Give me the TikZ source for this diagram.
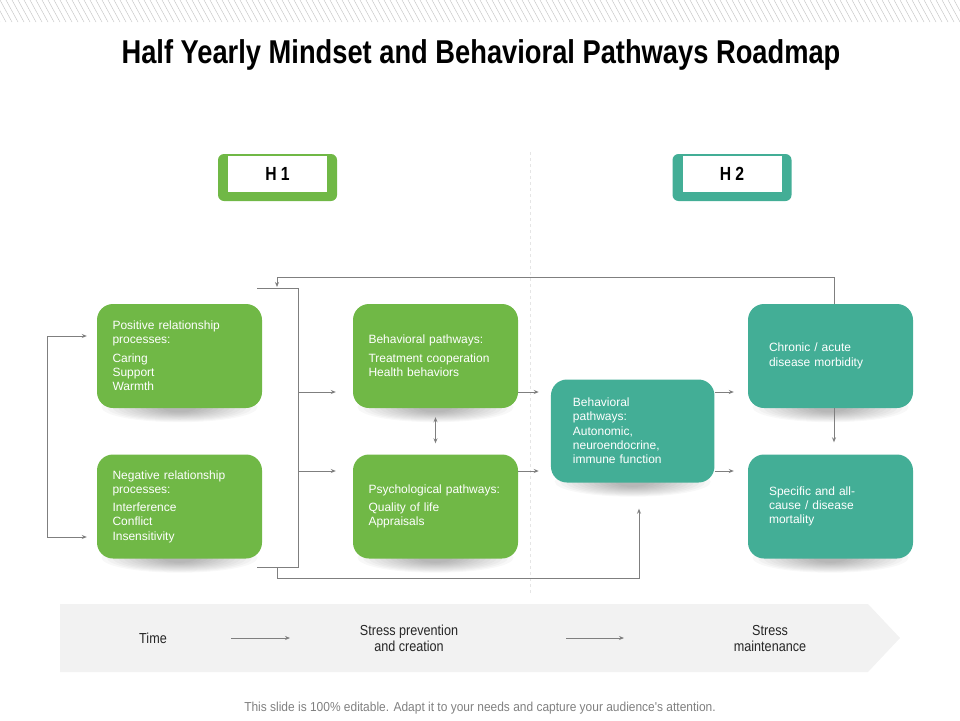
\documentclass[tikz,border=0pt]{standalone}
\usepackage{fontspec}
\setmainfont{Liberation Sans}
\newfontfamily\narrowfont[FakeStretch=0.87]{Liberation Sans}
\newfontfamily\footfont[FakeStretch=0.92]{Liberation Sans}
\newfontfamily\titlefont[FakeStretch=0.827]{Liberation Sans Bold}
\usetikzlibrary{arrows.meta,calc}
\definecolor{pgreen}{RGB}{112,184,70}
\definecolor{pteal}{RGB}{67,174,150}
\definecolor{lnk}{RGB}{127,127,127}
\definecolor{bandgray}{RGB}{242,242,242}
\definecolor{hatchc}{RGB}{200,200,200}
\pgfdeclarelayer{bg}
\pgfsetlayers{bg,main}
\begin{document}
\begin{tikzpicture}[x=1pt,y=-1pt,
  card/.style={rounded corners=16pt, minimum width=165pt, minimum height=104pt,
    text width=134pt, inner xsep=15.5pt, inner ysep=0pt, align=left, text=white,
    font=\fontsize{12}{14.3}\selectfont},
  gcard/.style={card, fill=pgreen},
  tcard/.style={card, fill=pteal},
  conn/.style={draw=lnk, line width=0.9pt},
  arr/.style={conn, -{Stealth[length=5pt,width=4pt]}},
  darr/.style={conn, {Stealth[length=5pt,width=4pt]}-{Stealth[length=5pt,width=4pt]}},
  hout/.style={rounded corners=6pt, minimum width=119pt, minimum height=47pt, inner sep=0pt},
  hin/.style={fill=white, minimum width=99pt, minimum height=36pt, inner sep=0pt,
    font=\titlefont\fontsize{19}{20}\selectfont},
  bandtext/.style={align=center, font=\narrowfont\fontsize{14.5}{16}\selectfont, text=black!85},
  shlayer/.style={fill=black, opacity=0.028}
]
\useasboundingbox (0,0) rectangle (960,720);
% top hatch band
\begin{scope}
  \clip (0,0) rectangle (960,22);
  \foreach \x in {-24,-18,...,966} \draw[hatchc, line width=0.5pt] (\x,0) -- ++(12,22);
\end{scope}
% title
\node (title) at (481,55) {\titlefont\fontsize{33}{36}\selectfont Half Yearly Mindset and Behavioral Pathways Roadmap};
% divider
\draw[black!10, dashed, line width=1pt] (530.5,152) -- (530.5,593);
% H boxes
\node[hout, fill=pgreen] (h1o) at (277.5,177.5) {};
\node[hin] (h1) at (277.5,173.5) {H 1};
\node[hout, fill=pteal] (h2o) at (732,177.5) {};
\node[hin] (h2) at (732,173.5) {H 2};
% cards
\node[gcard] (A) at (179.5,356) {Positive relationship\\processes:\\[4pt]Caring\\Support\\Warmth};
\node[gcard] (B) at (179.5,506.5) {Negative relationship\\processes:\\[4pt]Interference\\Conflict\\Insensitivity};
\node[gcard] (C) at (435.5,356) {Behavioral pathways:\\[4pt]Treatment cooperation\\Health behaviors};
\node[gcard] (D) at (435.5,506.5) {Psychological pathways:\\[4pt]Quality of life\\Appraisals};
\node[tcard, minimum width=163.5pt, minimum height=103pt, text width=119.5pt, inner xsep=22pt] (E) at (632.7,431) {Behavioral\\pathways:\\Autonomic,\\neuroendocrine,\\immune function};
\node[tcard, text width=123pt, inner xsep=21pt] (F) at (830.5,356) {Chronic / acute\\disease morbidity};
\node[tcard, text width=123pt, inner xsep=21pt] (G) at (830.5,506.5) {Specific and all-\\cause / disease\\mortality};
% soft shadows
\begin{pgfonlayer}{bg}
  \foreach \n in {A,B,C,D,E,F,G}
    \foreach \k in {0,...,11}
      \fill[shlayer] ($(\n.south)+(0,-1)$) ellipse ({78-5.5*\k} and {15-0.9*\k});
\end{pgfonlayer}
% left loop
\coordinate (lt) at (47,336);
\coordinate (lb) at (47,537);
\draw[conn] (lt) -- (lb);
\draw[arr] (lt) -- ($(lt -| A.west)+(-10,0)$);
\draw[arr] (lb) -- ($(lb -| B.west)+(-10,0)$);
% bracket
\coordinate (bt) at (257,288);
\coordinate (bb) at (257,567);
\coordinate (bx) at (298,0);
\draw[conn] (bt) -- (bt -| bx) -- (bb -| bx) -- (bb);
\coordinate (r1) at (298,392);
\coordinate (r2) at (298,471);
\draw[arr] (r1) -- ($(r1 -| C.west)+(-17,0)$);
\draw[arr] (r2) -- ($(r2 -| D.west)+(-17,0)$);
\draw[arr] (r1 -| C.east) -- ($(r1 -| E.west)+(-12,0)$);
\draw[arr] (r2 -| D.east) -- ($(r2 -| E.west)+(-12,0)$);
\draw[arr] (r1 -| E.east) -- ($(r1 -| F.west)+(-14,0)$);
\draw[arr] (r2 -| E.east) -- ($(r2 -| G.west)+(-14,0)$);
\draw[darr] ($(C.south)+(0,9)$) -- ($(D.north)+(0,-11)$);
% right column
\coordinate (fx) at (834,0);
\draw[arr] (F.south -| fx) -- ($(G.north -| fx)+(0,-12)$);
\coordinate (tp1) at (834,277);
\coordinate (tp2) at (277,277);
\draw[arr] (F.north -| fx) -- (tp1) -- (tp2) -- ($(bt -| tp2)+(0,-1)$);
% bottom feedback
\coordinate (bp1) at (277,567);
\coordinate (bp2) at (277,578);
\coordinate (bp3) at (639,578);
\draw[arr] (bp1) -- (bp2) -- (bp3) -- ($(E.south -| bp3)+(0,26)$);
% time band
\fill[bandgray] (60,604) -- (868,604) -- (900,638) -- (868,672) -- (60,672) -- cycle;
\node[bandtext] (t1) at (153,638) {Time};
\node[bandtext] (t2) at (409,638) {Stress prevention\\and creation};
\node[bandtext] (t3) at (770,638) {Stress\\maintenance};
\coordinate (a1s) at (231,638);
\coordinate (a1e) at (290,638);
\coordinate (a2s) at (566,638);
\coordinate (a2e) at (624,638);
\draw[arr, line width=0.8pt] (a1s) -- (a1e);
\draw[arr, line width=0.8pt] (a2s) -- (a2e);
% footer
\node[text=black!50, font=\footfont\fontsize{13}{14}\selectfont] (foot) at (480,708) {This slide is 100\% editable. Adapt it to your needs and capture your audience's attention.};
\end{tikzpicture}
\end{document}
